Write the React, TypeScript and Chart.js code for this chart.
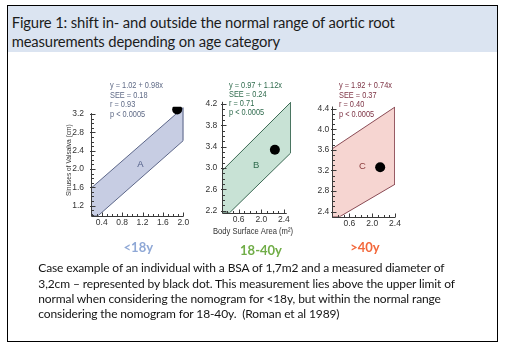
import React, { useEffect, useRef } from "react";
import { Chart, registerables } from "chart.js";

Chart.register(...registerables);

// ---------------- text ----------------
const TITLE_LINES = [
  "Figure 1: shift in- and outside the normal range of aortic root",
  "measurements depending on age category",
];
const CAPTION_LINES = [
  "Case example of an individual with a BSA of 1,7m2 and a measured diameter of",
  "3,2cm \u2013 represented by black dot. This measurement lies above the upper limit of",
  "normal when considering the nomogram for <18y, but within the normal range",
  "considering the nomogram for 18-40y.  (Roman et al 1989)",
];
const PANEL_NAMES = ["<18y", "18-40y", ">40y"];
const Y_AXIS_TITLE = "Sinuses of Valsalva (cm)";
const X_AXIS_TITLE = "Body Surface Area (m\u00B2)";

// ---------------- panel A (<18y) ----------------
const A_BAND_X = [0.19, 2.0, 2.0, 0.33, 0.19];
const A_BAND_Y = [1.58, 3.34, 2.62, 0.98, 0.98];
const A_POINT_X = [1.88];
const A_POINT_Y = [3.3];
const A_X_TICKS = [0.4, 0.8, 1.2, 1.6, 2.0];
const A_X_LABELS = ["0.4", "0.8", "1.2", "1.6", "2.0"];
const A_Y_TICKS = [1.2, 1.6, 2.0, 2.4, 2.8, 3.2];
const A_Y_LABELS = ["1.2", "1.6", "2.0", "2.4", "2.8", "3.2"];
const A_STATS = ["y = 1.02 + 0.98x", "SEE = 0.18", "r = 0.93", "p < 0.0005"];
const A_LETTER = "A";
const A_LETTER_AT = [1.16, 2.11];

// ---------------- panel B (18-40y) ----------------
const B_BAND_X = [1.31, 2.52, 2.52, 1.44, 1.31];
const B_BAND_Y = [2.95, 4.23, 3.28, 2.16, 2.16];
const B_POINT_X = [2.24];
const B_POINT_Y = [3.34];
const B_X_TICKS = [1.6, 2.0, 2.4];
const B_X_LABELS = ["0.6", "2.0", "2.4"];
const B_Y_TICKS = [2.2, 2.6, 3.0, 3.4, 3.8, 4.2];
const B_Y_LABELS = ["2.2", "2.6", "3.0", "3.4", "3.8", "4.2"];
const B_STATS = ["y = 0.97 + 1.12x", "SEE = 0.24", "r = 0.71", "p < 0.0005"];
const B_LETTER = "B";
const B_LETTER_AT = [1.91, 3.05];

// ---------------- panel C (>40y) ----------------
const C_BAND_X = [1.3, 2.4, 2.4, 1.43, 1.3];
const C_BAND_Y = [3.62, 4.43, 2.93, 2.3, 2.3];
const C_POINT_X = [2.14];
const C_POINT_Y = [3.26];
const C_X_TICKS = [1.6, 2.0, 2.4];
const C_X_LABELS = ["0.6", "2.0", "2.4"];
const C_Y_TICKS = [2.4, 2.8, 3.2, 3.6, 4.0, 4.4];
const C_Y_LABELS = ["2.4", "2.8", "3.2", "3.6", "4.0", "4.4"];
const C_STATS = ["y = 1.92 + 0.74x", "SEE = 0.37", "r = 0.40", "p < 0.0005"];
const C_LETTER = "C";
const C_LETTER_AT = [1.83, 3.28];

const MINOR_STEP = 0.1;

// ---------------- styling / layout ----------------
const SANS = '"Liberation Sans", Arial, sans-serif';
const BODY_FONT = 'Lato, "Open Sans", sans-serif';
const NARROW_SCALE = 0.82;
const HX = 24;

type Panel = {
  bandX: number[]; bandY: number[]; px: number[]; py: number[];
  xTicks: number[]; xLabels: string[]; yTicks: number[]; yLabels: string[];
  stats: string[]; letter: string; letterAt: number[];
  xMin: number; xMax: number; yMin: number; yMax: number; xAxisEnd: number; yAxisEnd: number;
  canvas: { left: number; top: number; width: number; height: number };
  area: { left: number; top: number; right: number; bottom: number };
  wy: number; yPad: number;
  fill: string; border: string; statColor: string; letterColor: string;
  statsPos: { left: number; top: number; lh: number };
  yTitle?: string; xTitle?: string; xTitleDx?: number;
  name: string; nameColor: string; namePos: { x: number; y: number };
};

const PANELS: Panel[] = [
  {
    bandX: A_BAND_X, bandY: A_BAND_Y, px: A_POINT_X, py: A_POINT_Y,
    xTicks: A_X_TICKS, xLabels: A_X_LABELS, yTicks: A_Y_TICKS, yLabels: A_Y_LABELS,
    stats: A_STATS, letter: A_LETTER, letterAt: A_LETTER_AT,
    xMin: 0.19, xMax: 2.0, yMin: 0.98, yMax: 3.36, xAxisEnd: 2.0, yAxisEnd: 3.22,
    canvas: { left: 35, top: 90, width: 165, height: 156 },
    area: { left: 91, top: 106.7, right: 183.3, bottom: 215.7 },
    wy: 31, yPad: 7,
    fill: "#c7cde3", border: "#5d6789", statColor: "#5f6a86", letterColor: "#4d5a85",
    statsPos: { left: 110, top: 81, lh: 9.6 },
    yTitle: Y_AXIS_TITLE,
    name: PANEL_NAMES[0], nameColor: "#8fa8d6", namePos: { x: 138.3, y: 247.3 },
  },
  {
    bandX: B_BAND_X, bandY: B_BAND_Y, px: B_POINT_X, py: B_POINT_Y,
    xTicks: B_X_TICKS, xLabels: B_X_LABELS, yTicks: B_Y_TICKS, yLabels: B_Y_LABELS,
    stats: B_STATS, letter: B_LETTER, letterAt: B_LETTER_AT,
    xMin: 1.31, xMax: 2.52, yMin: 2.16, yMax: 4.24, xAxisEnd: 2.45, yAxisEnd: 4.24,
    canvas: { left: 200, top: 90, width: 105, height: 156 },
    area: { left: 222.3, top: 101.8, right: 290.7, bottom: 212.7 },
    wy: 20, yPad: 5,
    fill: "#c8e2d5", border: "#3d6a55", statColor: "#2f6b4d", letterColor: "#2f6b4d",
    statsPos: { left: 229.3, top: 81, lh: 9.0 },
    xTitle: X_AXIS_TITLE, xTitleDx: 30.7,
    name: PANEL_NAMES[1], nameColor: "#70ad47", namePos: { x: 261, y: 250 },
  },
  {
    bandX: C_BAND_X, bandY: C_BAND_Y, px: C_POINT_X, py: C_POINT_Y,
    xTicks: C_X_TICKS, xLabels: C_X_LABELS, yTicks: C_Y_TICKS, yLabels: C_Y_LABELS,
    stats: C_STATS, letter: C_LETTER, letterAt: C_LETTER_AT,
    xMin: 1.3, xMax: 2.4, yMin: 2.3, yMax: 4.44, xAxisEnd: 2.4, yAxisEnd: 4.44,
    canvas: { left: 305, top: 90, width: 110, height: 156 },
    area: { left: 332.3, top: 106.5, right: 395, bottom: 216.7 },
    wy: 20, yPad: 3,
    fill: "#f6d5d1", border: "#8a4b55", statColor: "#7d3344", letterColor: "#8a3b3b",
    statsPos: { left: 339.3, top: 81, lh: 9.5 },
    name: PANEL_NAMES[2], nameColor: "#f3683b", namePos: { x: 365, y: 246.7 },
  },
];

function labelFor(ticks: number[], labels: string[], v: number) {
  const i = ticks.findIndex((t) => Math.abs(t - v) < 1e-9);
  return i >= 0 ? labels[i] : "";
}

function NomogramPanel({ p }: { p: Panel }) {
  const ref = useRef<HTMLCanvasElement | null>(null);

  useEffect(() => {
    if (!ref.current) return;
    const c = p.canvas;
    const a = p.area;
    const padding = {
      left: a.left - c.left - p.wy,
      top: a.top - c.top,
      right: c.left + c.width - a.right,
      bottom: c.top + c.height - a.bottom - HX,
    };

    const axesPlugin = {
      id: "nomogramAxes",
      afterDraw(chart: any) {
        const ctx = chart.ctx as CanvasRenderingContext2D;
        const xs = chart.scales.x;
        const ys = chart.scales.y;
        const area = chart.chartArea;
        const x0 = Math.round(xs.getPixelForValue(p.xMin)) + 0.5;
        const y0 = Math.round(ys.getPixelForValue(p.yMin)) + 0.5;
        const xEnd = xs.getPixelForValue(p.xAxisEnd);
        const yEnd = ys.getPixelForValue(p.yAxisEnd);
        ctx.save();
        ctx.strokeStyle = "#3a3a3a";
        ctx.lineWidth = 1;
        ctx.beginPath();
        ctx.moveTo(x0, y0);
        ctx.lineTo(x0, yEnd);
        ctx.moveTo(x0, y0);
        ctx.lineTo(xEnd, y0);
        ctx.stroke();
        // inward tick marks: major at labelled values, minor every 0.1
        ctx.beginPath();
        for (let k = Math.ceil(p.xMin / MINOR_STEP - 1e-6); k <= Math.floor(p.xAxisEnd / MINOR_STEP + 1e-6); k++) {
          const v = k * MINOR_STEP;
          const major = p.xTicks.some((t) => Math.abs(t - v) < 1e-6);
          const px = Math.round(xs.getPixelForValue(v)) + 0.5;
          ctx.moveTo(px, y0);
          ctx.lineTo(px, y0 - (major ? 4 : 2.5));
        }
        for (let k = Math.ceil(p.yMin / MINOR_STEP - 1e-6); k <= Math.floor(p.yAxisEnd / MINOR_STEP + 1e-6); k++) {
          const v = k * MINOR_STEP;
          const major = p.yTicks.some((t) => Math.abs(t - v) < 1e-6);
          const py = Math.round(ys.getPixelForValue(v)) + 0.5;
          ctx.moveTo(x0 - (major ? 1.5 : 0), py);
          ctx.lineTo(x0 + (major ? 4 : 2.5), py);
        }
        ctx.stroke();
        // band letter
        ctx.fillStyle = p.letterColor;
        ctx.font = "9.5px " + SANS;
        ctx.textAlign = "center";
        ctx.textBaseline = "middle";
        ctx.fillText(p.letter, xs.getPixelForValue(p.letterAt[0]), ys.getPixelForValue(p.letterAt[1]));
        // axis titles (condensed Arial look)
        if (p.xTitle) {
          ctx.save();
          ctx.fillStyle = "#333";
          ctx.font = "9.3px " + SANS;
          ctx.translate(area.left + (p.xTitleDx || 0), area.bottom + 18.5);
          ctx.scale(NARROW_SCALE, 1);
          ctx.fillText(p.xTitle, 0, 0);
          ctx.restore();
        }
        if (p.yTitle) {
          ctx.save();
          ctx.fillStyle = "#333";
          ctx.font = "8px " + SANS;
          ctx.translate(area.left - 22, (area.top + area.bottom) / 2 - 1);
          ctx.rotate(-Math.PI / 2);
          ctx.scale(NARROW_SCALE, 1);
          ctx.fillText(p.yTitle, 0, 0);
          ctx.restore();
        }
        ctx.restore();
      },
    };

    const chart = new Chart(ref.current, {
      type: "scatter",
      data: {
        datasets: [
          {
            data: p.px.map((x, i) => ({ x, y: p.py[i] })),
            pointRadius: 5,
            pointHoverRadius: 5,
            backgroundColor: "#000",
            borderColor: "#000",
            borderWidth: 0,
          },
          {
            data: p.bandX.map((x, i) => ({ x, y: p.bandY[i] })),
            showLine: true,
            fill: "shape",
            backgroundColor: p.fill,
            borderColor: p.border,
            borderWidth: 1,
            pointRadius: 0,
            pointHoverRadius: 0,
            tension: 0,
          },
        ],
      },
      options: {
        animation: false,
        responsive: false,
        maintainAspectRatio: false,
        events: [],
        layout: { padding },
        plugins: { legend: { display: false }, tooltip: { enabled: false } },
        scales: {
          x: {
            type: "linear",
            min: p.xMin,
            max: p.xMax,
            grid: { display: false, drawTicks: false },
            border: { display: false },
            afterBuildTicks: (s: any) => {
              s.ticks = p.xTicks.map((v) => ({ value: v }));
            },
            afterFit: (s: any) => {
              s.height = HX;
            },
            ticks: {
              autoSkip: false,
              maxRotation: 0,
              padding: 2,
              color: "#333",
              font: { family: SANS, size: 8.5 },
              callback: (v: any) => labelFor(p.xTicks, p.xLabels, Number(v)),
            },
          },
          y: {
            type: "linear",
            min: p.yMin,
            max: p.yMax,
            grid: { display: false, drawTicks: false },
            border: { display: false },
            afterBuildTicks: (s: any) => {
              s.ticks = p.yTicks.map((v) => ({ value: v }));
            },
            afterFit: (s: any) => {
              s.width = p.wy;
            },
            ticks: {
              autoSkip: false,
              padding: p.yPad,
              color: "#333",
              font: { family: SANS, size: 8.5 },
              callback: (v: any) => labelFor(p.yTicks, p.yLabels, Number(v)),
            },
          },
        },
      },
      plugins: [axesPlugin],
    } as any);
    return () => chart.destroy();
  }, [p]);

  const c = p.canvas;
  return (
    <>
      <canvas
        ref={ref}
        width={c.width}
        height={c.height}
        style={{ position: "absolute", left: c.left, top: c.top, width: c.width, height: c.height }}
      />
      <div
        style={{
          position: "absolute",
          left: p.statsPos.left,
          top: p.statsPos.top,
          fontFamily: SANS,
          fontSize: 9,
          lineHeight: p.statsPos.lh + "px",
          color: p.statColor,
          whiteSpace: "pre",
          transform: `scaleX(${NARROW_SCALE})`,
          transformOrigin: "0 0",
        }}
      >
        {p.stats.map((s, i) => (
          <div key={i}>{s}</div>
        ))}
      </div>
      <div
        style={{
          position: "absolute",
          left: p.namePos.x - 40,
          top: p.namePos.y - 9,
          width: 80,
          height: 18,
          lineHeight: "18px",
          textAlign: "center",
          fontFamily: BODY_FONT,
          fontWeight: 700,
          fontSize: 13,
          color: p.nameColor,
        }}
      >
        {p.name}
      </div>
    </>
  );
}

export default function App() {
  return (
    <div
      style={{
        position: "absolute",
        left: 0,
        top: 0,
        width: 510,
        height: 351,
        background: "#ffffff",
        overflow: "hidden",
      }}
    >
      <div
        style={{
          position: "absolute",
          left: 7,
          top: 5,
          width: 491,
          height: 337,
          border: "1px solid #000",
          boxSizing: "border-box",
        }}
      />
      <div style={{ position: "absolute", left: 8, top: 6, width: 489, height: 46, background: "#dbe4f1" }} />
      <div
        style={{
          position: "absolute",
          left: 11.7,
          top: 13.3,
          fontFamily: BODY_FONT,
          fontSize: 14.8,
          letterSpacing: "-0.15px",
          lineHeight: "18.4px",
          color: "#1c1c1c",
          whiteSpace: "pre",
        }}
      >
        {TITLE_LINES.map((t, i) => (
          <div key={i}>{t}</div>
        ))}
      </div>
      {PANELS.map((p, i) => (
        <NomogramPanel key={i} p={p} />
      ))}
      <div
        style={{
          position: "absolute",
          left: 38.3,
          top: 260.3,
          fontFamily: BODY_FONT,
          fontSize: 12,
          letterSpacing: "-0.12px",
          lineHeight: "15.3px",
          color: "#141414",
          whiteSpace: "pre",
        }}
      >
        {CAPTION_LINES.map((t, i) => (
          <div key={i}>{t}</div>
        ))}
      </div>
    </div>
  );
}
